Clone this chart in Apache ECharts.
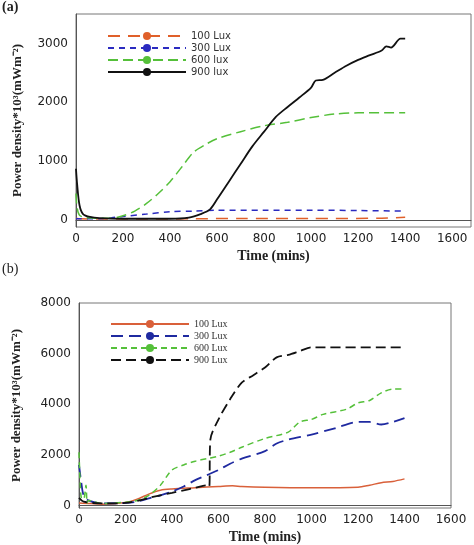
<!DOCTYPE html>
<html><head><meta charset="utf-8">
<script src="https://cdn.jsdelivr.net/npm/echarts@6/dist/echarts.min.js"></script>
<style>html,body{margin:0;padding:0;background:#fff}#c{width:474px;height:545px}</style>
</head><body><div id="c"></div>
<script>
const xTicks = [0,200,400,600,800,1000,1200,1400,1600];
// Panel (a)
const a100 = [[0,30],[20,20],[100,15],[300,15],[500,20],[700,25],[1000,25],[1300,30],[1400,45]];
const a300 = [[0,20],[100,20],[200,60],[300,100],[400,140],[500,150],[600,165],[800,165],[1000,165],[1200,160],[1400,150]];
const a600 = [[0,450],[5,200],[15,80],[40,40],[100,30],[150,30],[200,70],[250,150],[300,280],[350,450],[400,650],[450,900],[500,1150],[550,1280],[600,1380],[700,1500],[800,1600],[900,1660],[1000,1740],[1100,1800],[1200,1820],[1400,1820]];
const a900 = [[0,870],[5,600],[15,250],[30,100],[60,50],[100,30],[200,20],[400,20],[480,40],[530,100],[570,180],[600,350],[650,650],[700,950],[750,1250],[800,1500],[850,1750],[900,1920],[950,2080],[1000,2250],[1020,2370],[1050,2380],[1100,2500],[1150,2620],[1200,2720],[1250,2800],[1300,2880],[1320,2950],[1340,2930],[1380,3080],[1400,3080]];
// Panel (b)
const b100 = [[0,100],[50,80],[100,50],[200,120],[250,250],[300,450],[350,600],[400,650],[500,700],[600,750],[660,780],[700,750],[800,720],[1000,700],[1200,720],[1250,800],[1300,900],[1350,950],[1400,1050]];
const b300 = [[0,1600],[10,900],[20,400],[40,200],[100,80],[200,100],[250,150],[300,280],[350,400],[400,550],[450,750],[500,1000],[550,1200],[600,1400],[650,1650],[700,1850],[800,2150],[850,2450],[900,2600],[1000,2800],[1100,3050],[1200,3300],[1250,3300],[1300,3200],[1350,3300],[1400,3450]];
const b600 = [[0,2100],[5,900],[10,300],[20,250],[30,800],[35,100],[40,200],[100,80],[200,130],[250,200],[300,400],[350,800],[400,1400],[450,1600],[500,1750],[550,1850],[600,1950],[650,2100],[700,2300],[800,2650],[900,2900],[950,3300],[1000,3400],[1050,3600],[1150,3800],[1200,4050],[1250,4150],[1300,4450],[1350,4600],[1400,4600]];
const b900 = [[0,300],[20,150],[100,80],[200,100],[250,180],[300,300],[400,500],[450,600],[500,700],[550,800],[560,750],[565,2600],[600,3400],[650,4200],[700,4850],[750,5150],[800,5450],[850,5850],[900,5950],[950,6100],[1000,6250],[1400,6250]];
const yTicksA = [0,1000,2000,3000];
const yTicksB = [0,2000,4000,6000,8000];

const ff = 'Liberation Serif';
function xAxis(gi){return {type:'value',gridIndex:gi,min:0,max:gi===0?1680:1600,interval:200,
  axisLine:{show:true,lineStyle:{color:'#555'}},axisTick:{show:false},splitLine:{show:false},
  axisLabel:{color:'#222',fontFamily:'DejaVu Sans',fontSize:12,showMaxLabel:gi!==0,margin:6,
   formatter:v=>xTicks.includes(v)?String(v):''},
  name:'Time (mins)',nameLocation:'middle',nameGap:22,
  nameTextStyle:{fontFamily:ff,fontWeight:'bold',fontSize:14,color:'#222'}};}
function yAxis(gi,min,max,iv,ticks){return {type:'value',gridIndex:gi,min:min,max:max,interval:iv,
  axisLine:{show:true,lineStyle:{color:'#555'}},axisTick:{show:false},splitLine:{show:false},
  axisLabel:{color:'#222',fontFamily:'DejaVu Sans',fontSize:12,margin:8,
   formatter:v=>ticks.includes(v)?String(v):''},
  name:'Power density*10\u00b3(mWm\u207b\u00b2)',nameLocation:'middle',nameGap:gi===0?52:56,
  nameTextStyle:{fontFamily:ff,fontWeight:'bold',fontSize:13,color:'#222'}};}
function s(name,data,color,type,xi,w){return {name:name,type:'line',data:data,xAxisIndex:xi,yAxisIndex:xi,
  symbol:'none',smooth:0.3,lineStyle:{color:color,type:type,width:w||1.5},itemStyle:{color:color}};}
const chart = echarts.init(document.getElementById('c'),null,{renderer:'canvas'});
chart.setOption({
  animation:false,
  graphic:[{type:'text',left:2,top:0,style:{text:'(a)',font:'bold 14px "Liberation Serif"',fill:'#222'}},
           {type:'text',left:2,top:262,style:{text:'(b)',font:'14px "Liberation Serif"',fill:'#222'}}],
  grid:[{left:76,right:3,top:14,bottom:318,show:true,borderColor:'#777',borderWidth:1},
        {left:79,right:23,top:303,bottom:36,show:true,borderColor:'#777',borderWidth:1}],
  xAxis:[xAxis(0),xAxis(1)],
  yAxis:[yAxis(0,-120,3500,20,yTicksA),yAxis(1,-100,8000,100,yTicksB)],
  legend:[{data:['100 Lux','300 Lux','600 lux','900 lux'],left:102,top:26,orient:'vertical',itemGap:2,itemWidth:78,itemHeight:10,
    textStyle:{fontFamily:'DejaVu Sans',fontSize:10,color:'#333'}},
   {data:['100 Lux ','300 Lux ','600 Lux ','900 Lux '],left:105,top:314,orient:'vertical',itemGap:2,itemWidth:78,itemHeight:10,
    textStyle:{fontFamily:ff,fontSize:10,color:'#333'}}],
  series:[
    s('100 Lux',a100,'#e0602a',[12,8],0),
    s('300 Lux',a300,'#2b2bc0',[6,5],0),
    s('600 lux',a600,'#55c03a',[10,5],0),
    s('900 lux',a900,'#111111','solid',0,1.8),
    s('100 Lux ',b100,'#d9603a','solid',1),
    s('300 Lux ',b300,'#1f2aa0',[12,6],1,1.8),
    s('600 Lux ',b600,'#55c03a',[6,4],1),
    s('900 Lux ',b900,'#111111',[10,5],1,1.8)
  ]
});
</script></body></html>
